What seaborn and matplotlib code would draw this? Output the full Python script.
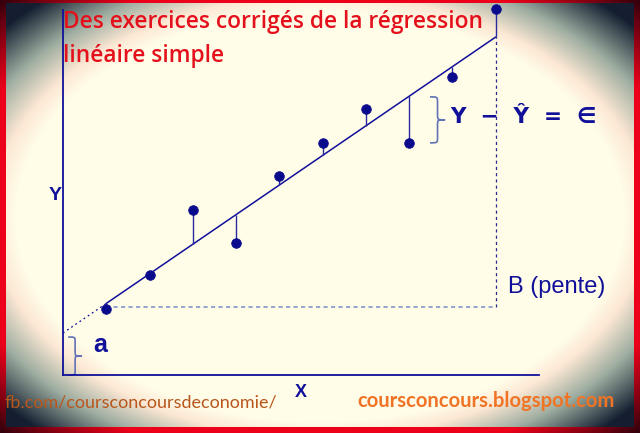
import numpy as np
import matplotlib
matplotlib.use("Agg")
import matplotlib.pyplot as plt
from matplotlib.path import Path
from matplotlib.patches import PathPatch
import seaborn as sns

# points (x, Y)
x_obs = [1, 2, 3, 4, 5, 6, 7, 8, 9, 10]
y_obs = [1.81, 2.74, 4.52, 3.62, 5.45, 6.36, 7.29, 6.36, 8.16, 10.03]
# droite de regression : Y^ = a + B x
a_int = 1.15
b_slope = 0.811
base_y = 1.86  # niveau du pointille horizontal (triangle de pente)

sns.set_theme(style="white")
plt.rcParams['font.family'] = ['DejaVu Sans']

navy = "#10109a"
fig = plt.figure(figsize=(6.4, 4.33), dpi=100)

# fond : vignette + cadre rouge
h, w = 433, 640
yy, xx = np.mgrid[0:h, 0:w]
u = (xx + 0.5) / w * 2 - 1
v = (yy + 0.5) / h * 2 - 1
r = np.sqrt(u ** 2 + v ** 2)
t = np.clip((r - 0.95) / 0.40, 0, 1)
stops = [0, 0.18, 0.5, 0.92]
img = np.zeros((h, w, 3))
for c, vals in enumerate([(1.0, 0.99, 0.62, 0.08), (0.99, 0.91, 0.68, 0.12), (0.91, 0.83, 0.63, 0.19)]):
    img[..., c] = np.interp(t, stops, vals)
border = (xx < 6) | (xx >= w - 6) | (yy < 3) | (yy >= h - 6)
red = np.array([0.93, 0.0, 0.1]); dark = np.array([0.2, 0.0, 0.05])
tb = np.clip((r - 1.15) / 0.26, 0, 1)[..., None]
img[border] = (red * (1 - tb) + dark * tb)[border]
bg = fig.add_axes([0, 0, 1, 1])
bg.imshow(img, aspect='auto', interpolation='bilinear')
bg.axis('off')

ax = fig.add_axes([63 / 640, 58 / 433, 476 / 640, 365 / 433])
ax.patch.set_alpha(0)
ax.set_xlim(0, 11); ax.set_ylim(0, 10)
ax.set_xticks([]); ax.set_yticks([])
for s in ['top', 'right']:
    ax.spines[s].set_visible(False)
for s in ['left', 'bottom']:
    ax.spines[s].set_color(navy); ax.spines[s].set_linewidth(1.3)


def brace(ax, x0, x1, y0, y1, color="#6272b4"):
    xm = (x0 + x1) / 2; ym = (y0 + y1) / 2; q = (y1 - y0) * 0.12
    verts = [(x0, y1), (xm, y1), (xm, y1), (xm, y1 - q), (xm, ym + q),
             (xm, ym), (xm, ym), (x1, ym),
             (xm, ym), (xm, ym), (xm, ym - q), (xm, y0 + q),
             (xm, y0), (xm, y0), (x0, y0)]
    codes = [Path.MOVETO, Path.CURVE4, Path.CURVE4, Path.CURVE4, Path.LINETO,
             Path.CURVE4, Path.CURVE4, Path.CURVE4,
             Path.CURVE4, Path.CURVE4, Path.CURVE4, Path.LINETO,
             Path.CURVE4, Path.CURVE4, Path.CURVE4]
    ax.add_patch(PathPatch(Path(verts, codes), fc='none', ec=color, lw=1.2, clip_on=False))


x_arr = np.array(x_obs); y_hat = a_int + b_slope * x_arr
# droite
sns.lineplot(x=[x_obs[0], x_obs[-1]], y=[y_hat[0], y_hat[-1]], color=navy, lw=1.1, ax=ax)
ax.plot([0, x_obs[0]], [a_int, y_hat[0]], color=navy, lw=0.9, ls=(0, (1.5, 2.5)))
# residus
ax.vlines(x_arr, y_obs, y_hat, color="#2a2aa0", lw=1.0)
sns.scatterplot(x=x_obs, y=y_obs, s=48, color="#0a0a8c", edgecolor="#0a0a8c", ax=ax, clip_on=False, zorder=5)
# triangle de pente
ax.plot([x_obs[0], x_obs[-1]], [base_y, base_y], color="#8594c4", lw=1.2, ls=(0, (2.5, 2)))
ax.plot([x_obs[-1], x_obs[-1]], [base_y, y_hat[-1]], color="#2a2a90", lw=0.9, ls=(0, (2.5, 2.5)))

brace(ax, 8.48, 8.83, 6.36, 7.62)
brace(ax, 0.12, 0.44, 0.0, 1.04)

ax.text(-0.185, 4.93, "Y", ha='center', va='center', fontsize=14, fontweight='bold', color=navy, family='Liberation Sans')
ax.text(5.5, -0.47, "X", ha='center', va='center', fontsize=13, fontweight='bold', color=navy, family='Liberation Sans')
ax.text(0.86, 0.82, "a", ha='center', va='center', fontsize=18, fontweight='bold', color=navy, family='Liberation Sans')
ax.text(10.28, 2.41, "B (pente)", ha='left', va='center', fontsize=17, color=navy, family='Liberation Sans', clip_on=False)
ax.text(8.94, 7.07, "Y  \u2212  \u0176  =  \u2208", ha='left', va='center', fontsize=15.5, fontweight='bold', color=navy, clip_on=False)

fig.text(63 / 640, 1 - 10 / 433, "Des exercices corrigés de la régression\nlinéaire simple", ha='left', va='top',
         fontsize=16.4, color="#e4101c", family='Open Sans', fontweight='semibold', linespacing=1.55)
fig.text(5 / 640, 1 - 403 / 433, "fb.com/coursconcoursdeconomie/", ha='left', va='center', fontsize=13, color="#b8561c", family='Lato')
fig.text(357 / 640, 1 - 401 / 433, "coursconcours.blogspot.com", ha='left', va='center', fontsize=14.6, color="#f07426", family='Lato', fontweight='bold')

fig.savefig("out.png", dpi=100)
